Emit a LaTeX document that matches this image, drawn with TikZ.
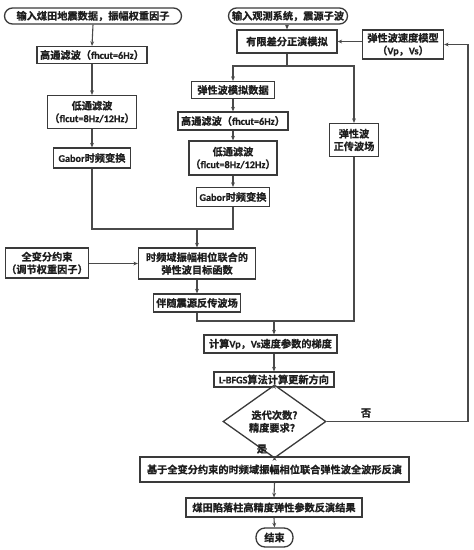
\documentclass[tikz,border=0pt]{standalone}
\usepackage{fontspec}
\setmainfont{Noto Sans CJK SC Bold}[FakeBold=0.8]
\newfontfamily\latfont{Carlito}[UprightFont={* Bold}, FakeBold=0.5]
\newcommand{\lt}[1]{{\latfont #1}}
\usetikzlibrary{arrows.meta,shapes.geometric}
\definecolor{boxc}{HTML}{3A3A3A}
\definecolor{linec}{HTML}{4A4A4A}
\definecolor{txtc}{HTML}{1E1E1E}
\begin{document}
\begin{tikzpicture}[x=1pt,y=-1pt,
  box/.style={draw=boxc, line width=1.3pt, fill=white, inner sep=1pt, align=center,
    font=\fontsize{10.2}{12.6}\selectfont, text=txtc},
  term/.style={box, rounded corners=8pt},
  arr/.style={draw=linec, line width=1.1pt, -{Stealth[length=4.5pt,width=3.8pt]}},
  ln/.style={draw=linec, line width=1.1pt},
  lab/.style={font=\fontsize{10.2}{12.6}\selectfont, text=txtc, inner sep=0pt}]
\useasboundingbox (0,0) rectangle (474,550);

% left column
\node[term, minimum width=177pt, minimum height=16pt] (in1) at (93,16) {输入煤田地震数据，振幅权重因子};
\node[box, minimum width=110pt, minimum height=17pt] (hp1) at (92,55) {高通滤波（\lt{fhcut=6Hz}）};
\node[box, minimum width=89pt, minimum height=33pt] (lp1) at (92,112) {低通滤波\\（\lt{flcut=8Hz/12Hz}）};
\node[box, minimum width=77pt, minimum height=20pt] (gb1) at (92,158) {\lt{Gabor}时频变换};

% middle column
\node[term, minimum width=119pt, minimum height=16pt] (in2) at (288,16) {输入观测系统，震源子波};
\node[box, minimum width=100pt, minimum height=23pt] (fd) at (287,41.5) {有限差分正演模拟};
\node[box, minimum width=81pt, minimum height=29pt] (vm) at (403,44.5) {弹性波速度模型\\（\lt{Vp}，\lt{Vs}）};
\node[box, minimum width=83pt, minimum height=17pt] (sim) at (233,90) {弹性波模拟数据};
\node[box, minimum width=110pt, minimum height=18pt] (hp2) at (233,121) {高通滤波（\lt{fhcut=6Hz}）};
\node[box, minimum width=88pt, minimum height=34pt] (lp2) at (233,158) {低通滤波\\（\lt{flcut=8Hz/12Hz}）};
\node[box, minimum width=73pt, minimum height=19pt] (gb2) at (233,197) {\lt{Gabor}时频变换};
\node[box, minimum width=49pt, minimum height=33pt] (fw) at (354,140) {弹性波\\正传波场};

% objective
\node[box, minimum width=83pt, minimum height=30pt] (tv) at (47,263) {全变分约束\\（调节权重因子）};
\node[box, minimum width=117pt, minimum height=31pt] (obj) at (197,263.5) {时频域振幅相位联合的\\弹性波目标函数};
\node[box, minimum width=87pt, minimum height=18pt] (adj) at (197,303) {伴随震源反传波场};

% lower chain
\node[box, minimum width=133pt, minimum height=18pt] (grad) at (270.5,344) {计算\lt{Vp}，\lt{Vs}速度参数的梯度};
\node[box, minimum width=120pt, minimum height=15pt] (lbfgs) at (274,379.5) {\lt{L-BFGS}算法计算更新方向};
\node[draw=boxc, line width=1.3pt, fill=white, diamond, inner sep=0pt, minimum width=103pt, minimum height=39pt,
      align=center, font=\fontsize{10.2}{12.6}\selectfont, text=txtc] (dia) at (274.5,421.5) {迭代次数?\\精度要求？};
\node[box, minimum width=269pt, minimum height=25pt] (inv) at (274.5,469.5) {基于全变分约束的时频域振幅相位联合弹性波全波形反演};
\node[box, minimum width=176pt, minimum height=19pt] (res) at (274,507.5) {煤田陷落柱高精度弹性参数反演结果};
\node[box, rounded corners=9pt, minimum width=37pt, minimum height=19pt] (end) at (274.5,537.5) {结束};

% helper coordinates
\coordinate (m1) at (197,229);
\coordinate (m2) at (287,66);
\coordinate (m3) at (274,321);
\coordinate (m4) at (468,421.5);

% connectors
\draw[arr] (in1.south) -- (hp1.north);
\draw[arr] (hp1.south) -- (lp1.north);
\draw[arr] (lp1.south) -- (gb1.north);
\draw[ln] (gb1.south) |- (m1) -| (gb2.south);
\draw[arr] (m1) -- (obj.north);

\draw[arr] (in2.south -| fd.north) -- (fd.north);
\draw[arr] (vm.west |- fd.east) -- (fd.east);
\draw[ln] (fd.south) -- (m2);
\draw[arr] (m2) -| (sim.north);
\draw[arr] (m2) -| (fw.north);
\draw[arr] (sim.south) -- (hp2.north);
\draw[arr] (hp2.south) -- (lp2.north);
\draw[arr] (lp2.south) -- (gb2.north);

\draw[arr] (tv.east |- obj.west) -- (obj.west);
\draw[arr] (obj.south) -- (adj.north);
\draw[ln] (adj.south) |- (m3) -| (fw.south);
\draw[arr] (m3) -- (m3 |- grad.north);
\draw[arr] (m3 |- grad.south) -- (lbfgs.north);
\draw[arr] (lbfgs.south) -- (dia.north);
\draw[arr] (dia.east) -- (m4) |- (vm.east);
\node[lab] (no) at (366,413) {否};
\draw[arr] (dia.south) -- (inv.north);
\node[lab] (yes) at (262,449) {是};
\draw[arr] (inv.south) -- (res.north);
\draw[arr] (res.south) -- (end.north);
\end{tikzpicture}
\end{document}
